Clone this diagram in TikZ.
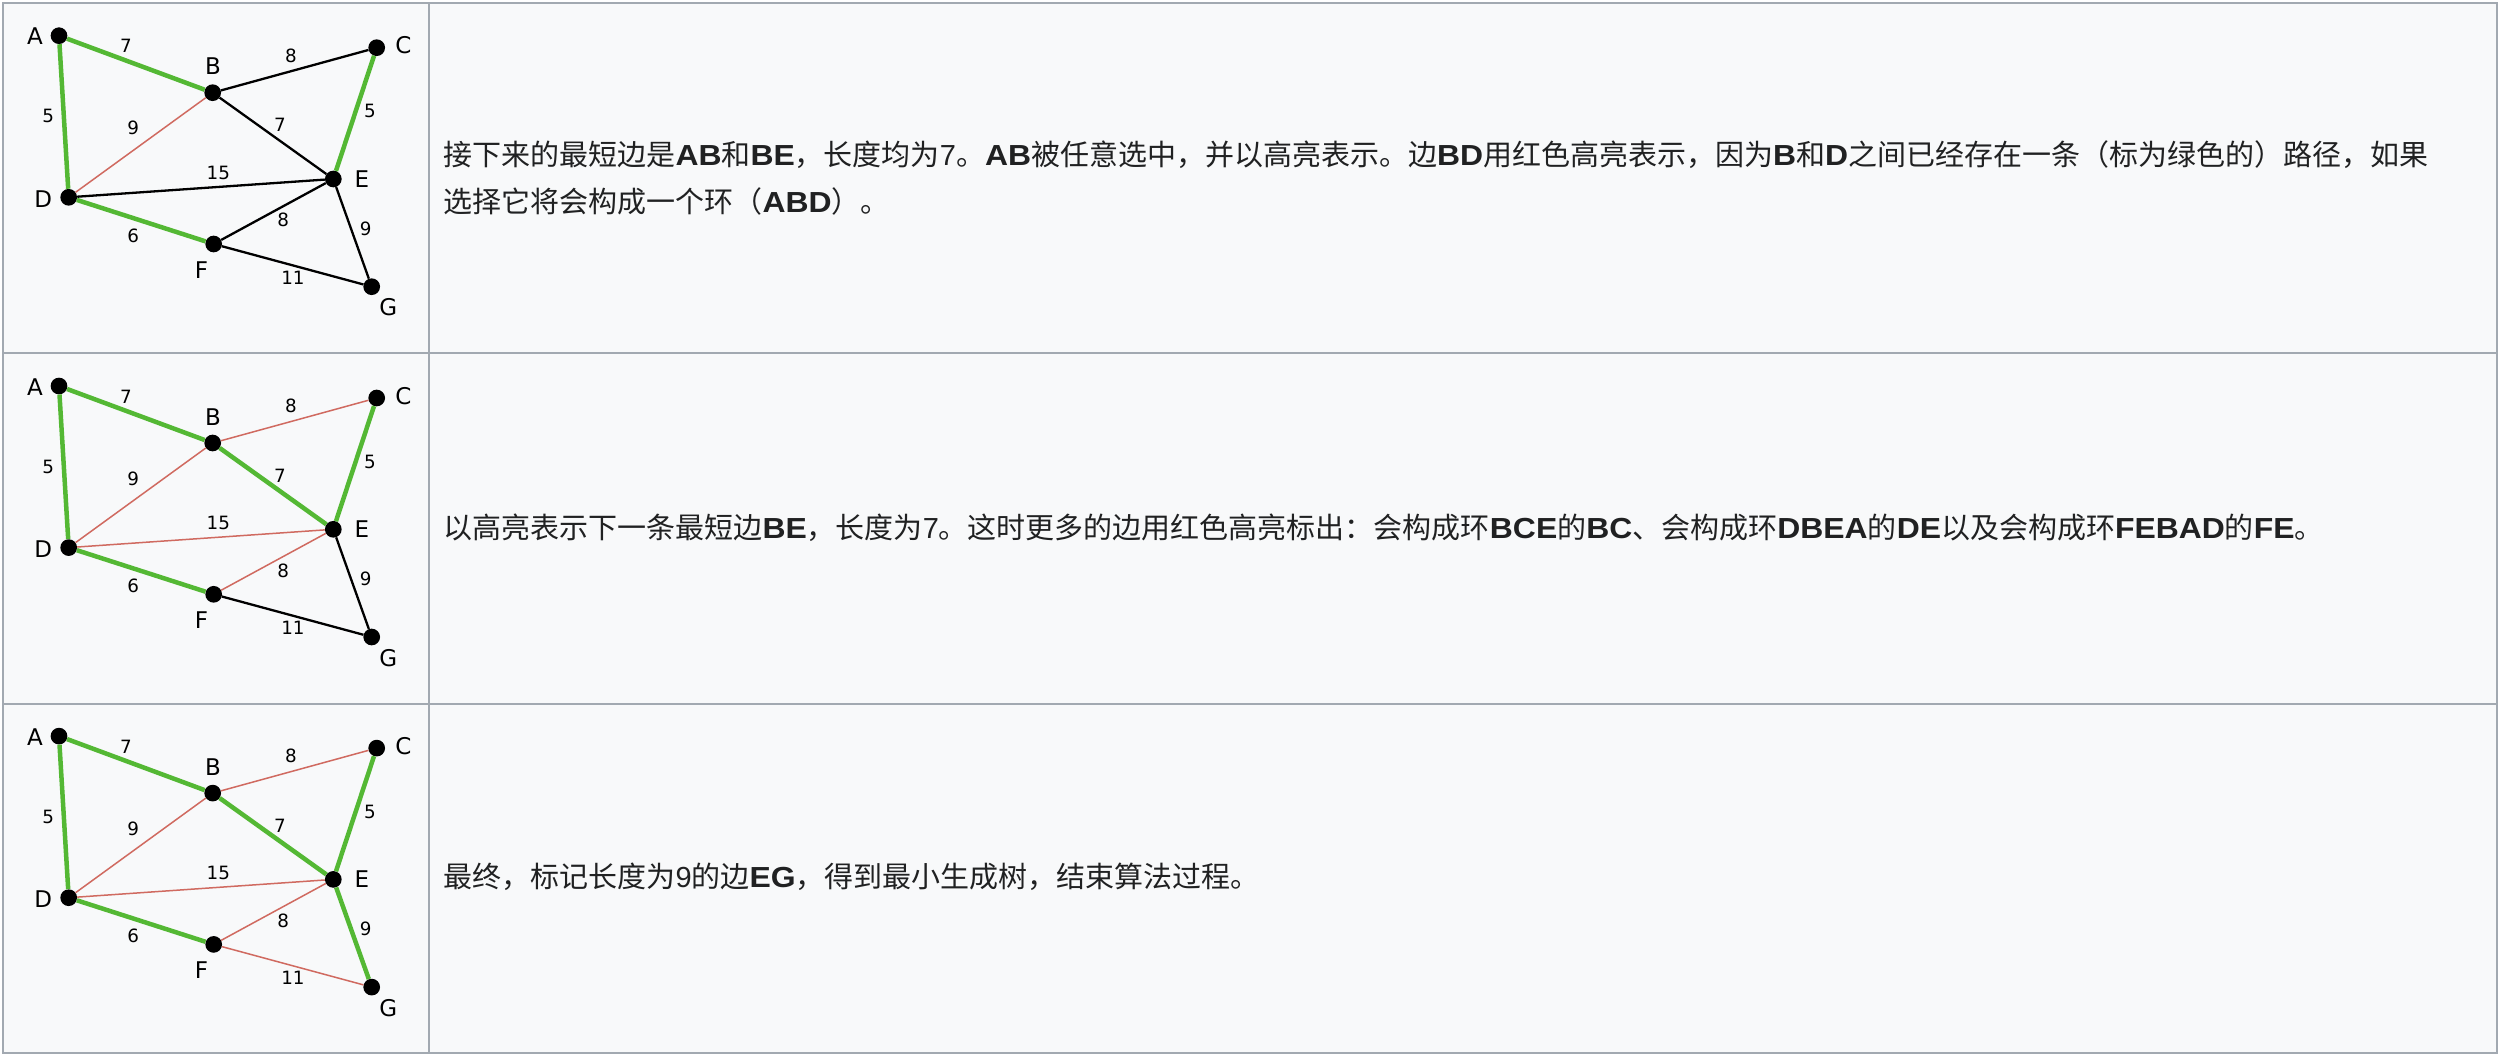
\documentclass[tikz,border=0pt]{standalone}
\usepackage{fontspec}
\setmainfont{Noto Sans CJK SC}
\newfontfamily\latfont{Liberation Sans}
\newfontfamily\latbold{Liberation Sans}[FakeStretch=1.1]
\newfontfamily\gfont{DejaVu Sans}
\newcommand\lb[1]{{\latbold\bfseries #1}}
\newcommand\ld[1]{{\latfont #1}}
\definecolor{tblbg}{HTML}{F8F9FA}
\definecolor{tblborder}{HTML}{A2A9B1}
\definecolor{txtcol}{HTML}{202122}
\definecolor{mstgreen}{RGB}{84,184,52}
\definecolor{cyclered}{RGB}{208,106,96}
\begin{document}
\begin{tikzpicture}[x=1pt,y=-1pt,
  vertex/.style={circle,fill=black,inner sep=0pt,minimum size=16.7pt},
  vlabel/.style={inner sep=0pt,anchor=base,font=\gfont\fontsize{23}{23}\selectfont},
  elabel/.style={inner sep=0pt,anchor=base,font=\gfont\fontsize{18.3}{18}\selectfont},
  greenedge/.style={draw=mstgreen,line width=4.5pt},
  rededge/.style={draw=cyclered,line width=1.5pt},
  plainedge/.style={draw=black,line width=2.3pt},
  border/.style={draw=tblborder,line width=2pt},
  desc/.style={inner sep=0pt,anchor=west,align=left,text=txtcol,font=\fontsize{29}{47}\selectfont},
]
\useasboundingbox (0,0) rectangle (2498,1054);
\fill[white] (0,0) rectangle (2498,1054);
\fill[tblbg] (3,3) rectangle (2497,1053);
\draw[border] (3,3) rectangle (2497,1053);
\draw[border] (3,353) -- (2497,353);
\draw[border] (3,703.5) -- (2497,703.5);
\draw[border] (428.7,3) -- (428.7,1053);

\foreach \r/\oy/\sBC/\sBD/\sBE/\sDE/\sEF/\sEG/\sFG in {
  1/0/plainedge/rededge/plainedge/plainedge/plainedge/plainedge/plainedge,
  2/350.3/rededge/rededge/greenedge/rededge/rededge/plainedge/plainedge,
  3/700.4/rededge/rededge/greenedge/rededge/rededge/greenedge/rededge}{
  \node[vertex] (A\r) at (59,35.7+\oy) {};
  \node[vertex] (B\r) at (212.7,92.7+\oy) {};
  \node[vertex] (C\r) at (376.7,47.7+\oy) {};
  \node[vertex] (D\r) at (68.7,197.3+\oy) {};
  \node[vertex] (E\r) at (333.3,179+\oy) {};
  \node[vertex] (F\r) at (213.7,244+\oy) {};
  \node[vertex] (G\r) at (371.7,286.7+\oy) {};
  \draw[greenedge] (A\r) -- (B\r);
  \draw[greenedge] (A\r) -- (D\r);
  \draw[greenedge] (C\r) -- (E\r);
  \draw[greenedge] (D\r) -- (F\r);
  \draw[\sBC] (B\r) -- (C\r);
  \draw[\sBD] (B\r) -- (D\r);
  \draw[\sBE] (B\r) -- (E\r);
  \draw[\sDE] (D\r) -- (E\r);
  \draw[\sEF] (E\r) -- (F\r);
  \draw[\sEG] (E\r) -- (G\r);
  \draw[\sFG] (F\r) -- (G\r);
  \node[vlabel] (tA\r) at (35,45+\oy) {A};
  \node[vlabel] (tB\r) at (213,75+\oy) {B};
  \node[vlabel] (tC\r) at (403.3,54+\oy) {C};
  \node[vlabel] (tD\r) at (43.3,207.3+\oy) {D};
  \node[vlabel] (tE\r) at (362,187.3+\oy) {E};
  \node[vlabel] (tF\r) at (201.5,278.3+\oy) {F};
  \node[vlabel] (tG\r) at (388.2,315.7+\oy) {G};
  \node[elabel] (lAB\r) at (126,52.7+\oy) {7};
  \node[elabel] (lBC\r) at (291,62.3+\oy) {8};
  \node[elabel] (lAD\r) at (48.3,122.7+\oy) {5};
  \node[elabel] (lBD\r) at (133.3,135+\oy) {9};
  \node[elabel] (lBE\r) at (280,131.7+\oy) {7};
  \node[elabel] (lCE\r) at (370,117.7+\oy) {5};
  \node[elabel] (lDE\r) at (218.3,179+\oy) {15};
  \node[elabel] (lDF\r) at (133.3,242.3+\oy) {6};
  \node[elabel] (lEF\r) at (283.3,226.7+\oy) {8};
  \node[elabel] (lEG\r) at (365.7,235+\oy) {9};
  \node[elabel] (lFG\r) at (293,284+\oy) {11};
}

\node[desc] (t1) at (443.3,178) {接下来的最短边是\lb{AB}和\lb{BE}，长度均为\ld{7}。\lb{AB}被任意选中，并以高亮表示。边\lb{BD}用红色高亮表示，因为\lb{B}和\lb{D}之间已经存在一条（标为绿色的）路径，如果\\选择它将会构成一个环（\lb{ABD}）。};
\node[desc] (t2) at (443.3,528) {以高亮表示下一条最短边\lb{BE}，长度为\ld{7}。这时更多的边用红色高亮标出：会构成环\lb{BCE}的\lb{BC}、会构成环\lb{DBEA}的\lb{DE}以及会构成环\lb{FEBAD}的\lb{FE}。};
\node[desc] (t3) at (443.3,877) {最终，标记长度为\ld{9}的边\lb{EG}，得到最小生成树，结束算法过程。};
\end{tikzpicture}
\end{document}
